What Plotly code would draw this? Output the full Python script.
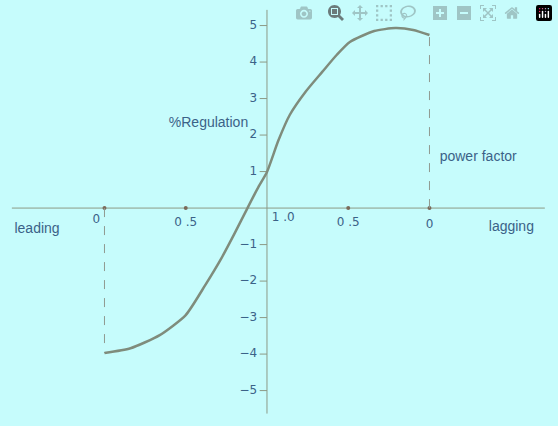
import plotly.graph_objects as go

# power factor position: -1 = 0 leading, 0 = unity, 1 = 0 lagging
pf_x = [-1.0, -0.84, -0.66, -0.5, -0.38, -0.28, -0.2, -0.12, -0.05, 0.0, 0.07, 0.14, 0.24, 0.34, 0.43, 0.51, 0.66, 0.79, 0.9, 1.0]
regulation = [-3.97, -3.84, -3.48, -2.93, -2.11, -1.37, -0.7, 0.0, 0.6, 0.99, 1.85, 2.55, 3.2, 3.73, 4.2, 4.55, 4.85, 4.93, 4.88, 4.74]

y_ticks = [5, 4, 3, 2, 1, -1, -2, -3, -4, -5]
y_labels = ["5", "4", "3", "2", "1", "\u22121", "\u22122", "\u22123", "\u22124", "\u22125"]
x_dots = [-1.0, -0.5, 0.5, 1.0]
x_labels = ["0", "0 .5", "1 .0", "0 .5", "0"]
x_label_pos = [-1.05, -0.5, 0.1, 0.5, 1.0]

axis_col = "#8c9a86"
text_col = "#3b6288"
font = dict(family="Liberation Sans", size=14, color=text_col)

fig = go.Figure()
# axes
fig.add_trace(go.Scatter(x=[-1.57, 1.71], y=[0, 0], mode="lines",
                         line=dict(color=axis_col, width=1), hoverinfo="skip"))
fig.add_trace(go.Scatter(x=[0, 0], y=[5.43, -5.63], mode="lines",
                         line=dict(color=axis_col, width=1), hoverinfo="skip"))
# y tick marks
for t in y_ticks:
    fig.add_trace(go.Scatter(x=[-0.045, 0], y=[t, t], mode="lines",
                             line=dict(color=axis_col, width=1), hoverinfo="skip"))
fig.add_trace(go.Scatter(x=[-0.06] * len(y_ticks), y=y_ticks, mode="text",
                         text=y_labels, textposition="middle left",
                         textfont=dict(family="DejaVu Sans", size=12, color=text_col)))
# x dots and labels
fig.add_trace(go.Scatter(x=x_dots, y=[0] * len(x_dots), mode="markers",
                         marker=dict(color="#7a6a5a", size=4)))
fig.add_trace(go.Scatter(x=x_label_pos, y=[-0.33, -0.4, -0.28, -0.4, -0.47],
                         mode="text", text=x_labels,
                         textfont=dict(family="DejaVu Sans", size=12, color=text_col)))
# dashed drop lines
fig.add_trace(go.Scatter(x=[-1, -1], y=[0, regulation[0]], mode="lines",
                         line=dict(color="#8f9a90", width=1, dash="dash")))
fig.add_trace(go.Scatter(x=[1, 1], y=[0, regulation[-1]], mode="lines",
                         line=dict(color="#8f9a90", width=1, dash="dash")))
# curve
fig.add_trace(go.Scatter(x=pf_x, y=regulation, mode="lines", line_shape="spline",
                         line=dict(color="#7f8c7c", width=2.5, smoothing=0.6)))
# labels
fig.add_trace(go.Scatter(x=[-1.415, 1.504, -0.36, 1.3], y=[-0.58, -0.52, 2.32, 1.39],
                         mode="text",
                         text=["leading", "lagging", "%Regulation", "power factor"],
                         textfont=font))

fig.update_layout(
    width=558, height=426, margin=dict(l=0, r=0, t=0, b=0),
    paper_bgcolor="#c6fcfc", plot_bgcolor="#c6fcfc", showlegend=False,
    xaxis=dict(range=[-1.643, 1.791], visible=False),
    yaxis=dict(range=[-5.97, 5.70], visible=False),
)
fig.write_html("out.html",
               post_script="document.body.style.margin='0';"
                           "document.body.style.background='#c6fcfc';")
